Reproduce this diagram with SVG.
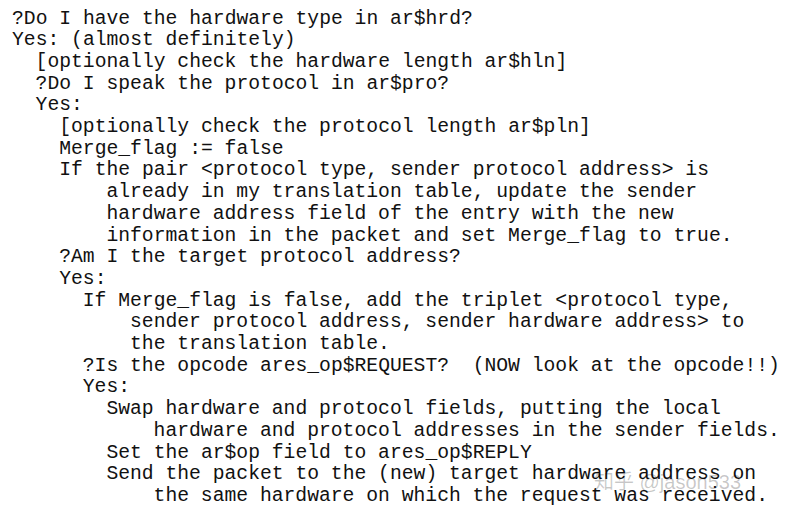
<svg xmlns="http://www.w3.org/2000/svg" width="797" height="513" viewBox="0 0 797 513">
<style>
text{font-family:"Liberation Mono","Courier New",monospace;font-size:19.7px;fill:#111;white-space:pre}
.wm{font-family:"Liberation Sans","Noto Sans CJK SC",sans-serif;font-size:20px;fill:#000;fill-opacity:0.22}
</style>
<rect width="797" height="513" fill="#fff"/>
<g id="text" xml:space="preserve" transform="translate(0,1.5)">
<text x="12" y="22">?Do I have the hardware type in ar$hrd?</text>
<text x="12" y="43.7">Yes: (almost definitely)</text>
<text x="35.6" y="65.4">[optionally check the hardware length ar$hln]</text>
<text x="35.6" y="87.1">?Do I speak the protocol in ar$pro?</text>
<text x="35.6" y="108.8">Yes:</text>
<text x="59.2" y="130.5">[optionally check the protocol length ar$pln]</text>
<text x="59.2" y="152.2">Merge_flag := false</text>
<text x="59.2" y="173.9">If the pair &lt;protocol type, sender protocol address&gt; is</text>
<text x="106.4" y="195.6">already in my translation table, update the sender</text>
<text x="106.4" y="217.3">hardware address field of the entry with the new</text>
<text x="106.4" y="239">information in the packet and set Merge_flag to true.</text>
<text x="59.2" y="260.7">?Am I the target protocol address?</text>
<text x="59.2" y="282.4">Yes:</text>
<text x="82.8" y="304.1">If Merge_flag is false, add the triplet &lt;protocol type,</text>
<text x="130" y="325.8">sender protocol address, sender hardware address&gt; to</text>
<text x="130" y="347.5">the translation table.</text>
<text x="82.8" y="369.2">?Is the opcode ares_op$REQUEST?  (NOW look at the opcode!!)</text>
<text x="82.8" y="390.9">Yes:</text>
<text x="106.4" y="412.6">Swap hardware and protocol fields, putting the local</text>
<text x="153.6" y="434.3">hardware and protocol addresses in the sender fields.</text>
<text x="106.4" y="456">Set the ar$op field to ares_op$REPLY</text>
<text x="106.4" y="477.7">Send the packet to the (new) target hardware address on</text>
<text x="153.6" y="499.4">the same hardware on which the request was received.</text>
</g>
<text class="wm" x="594" y="489">知乎 @jason533</text>
</svg>
